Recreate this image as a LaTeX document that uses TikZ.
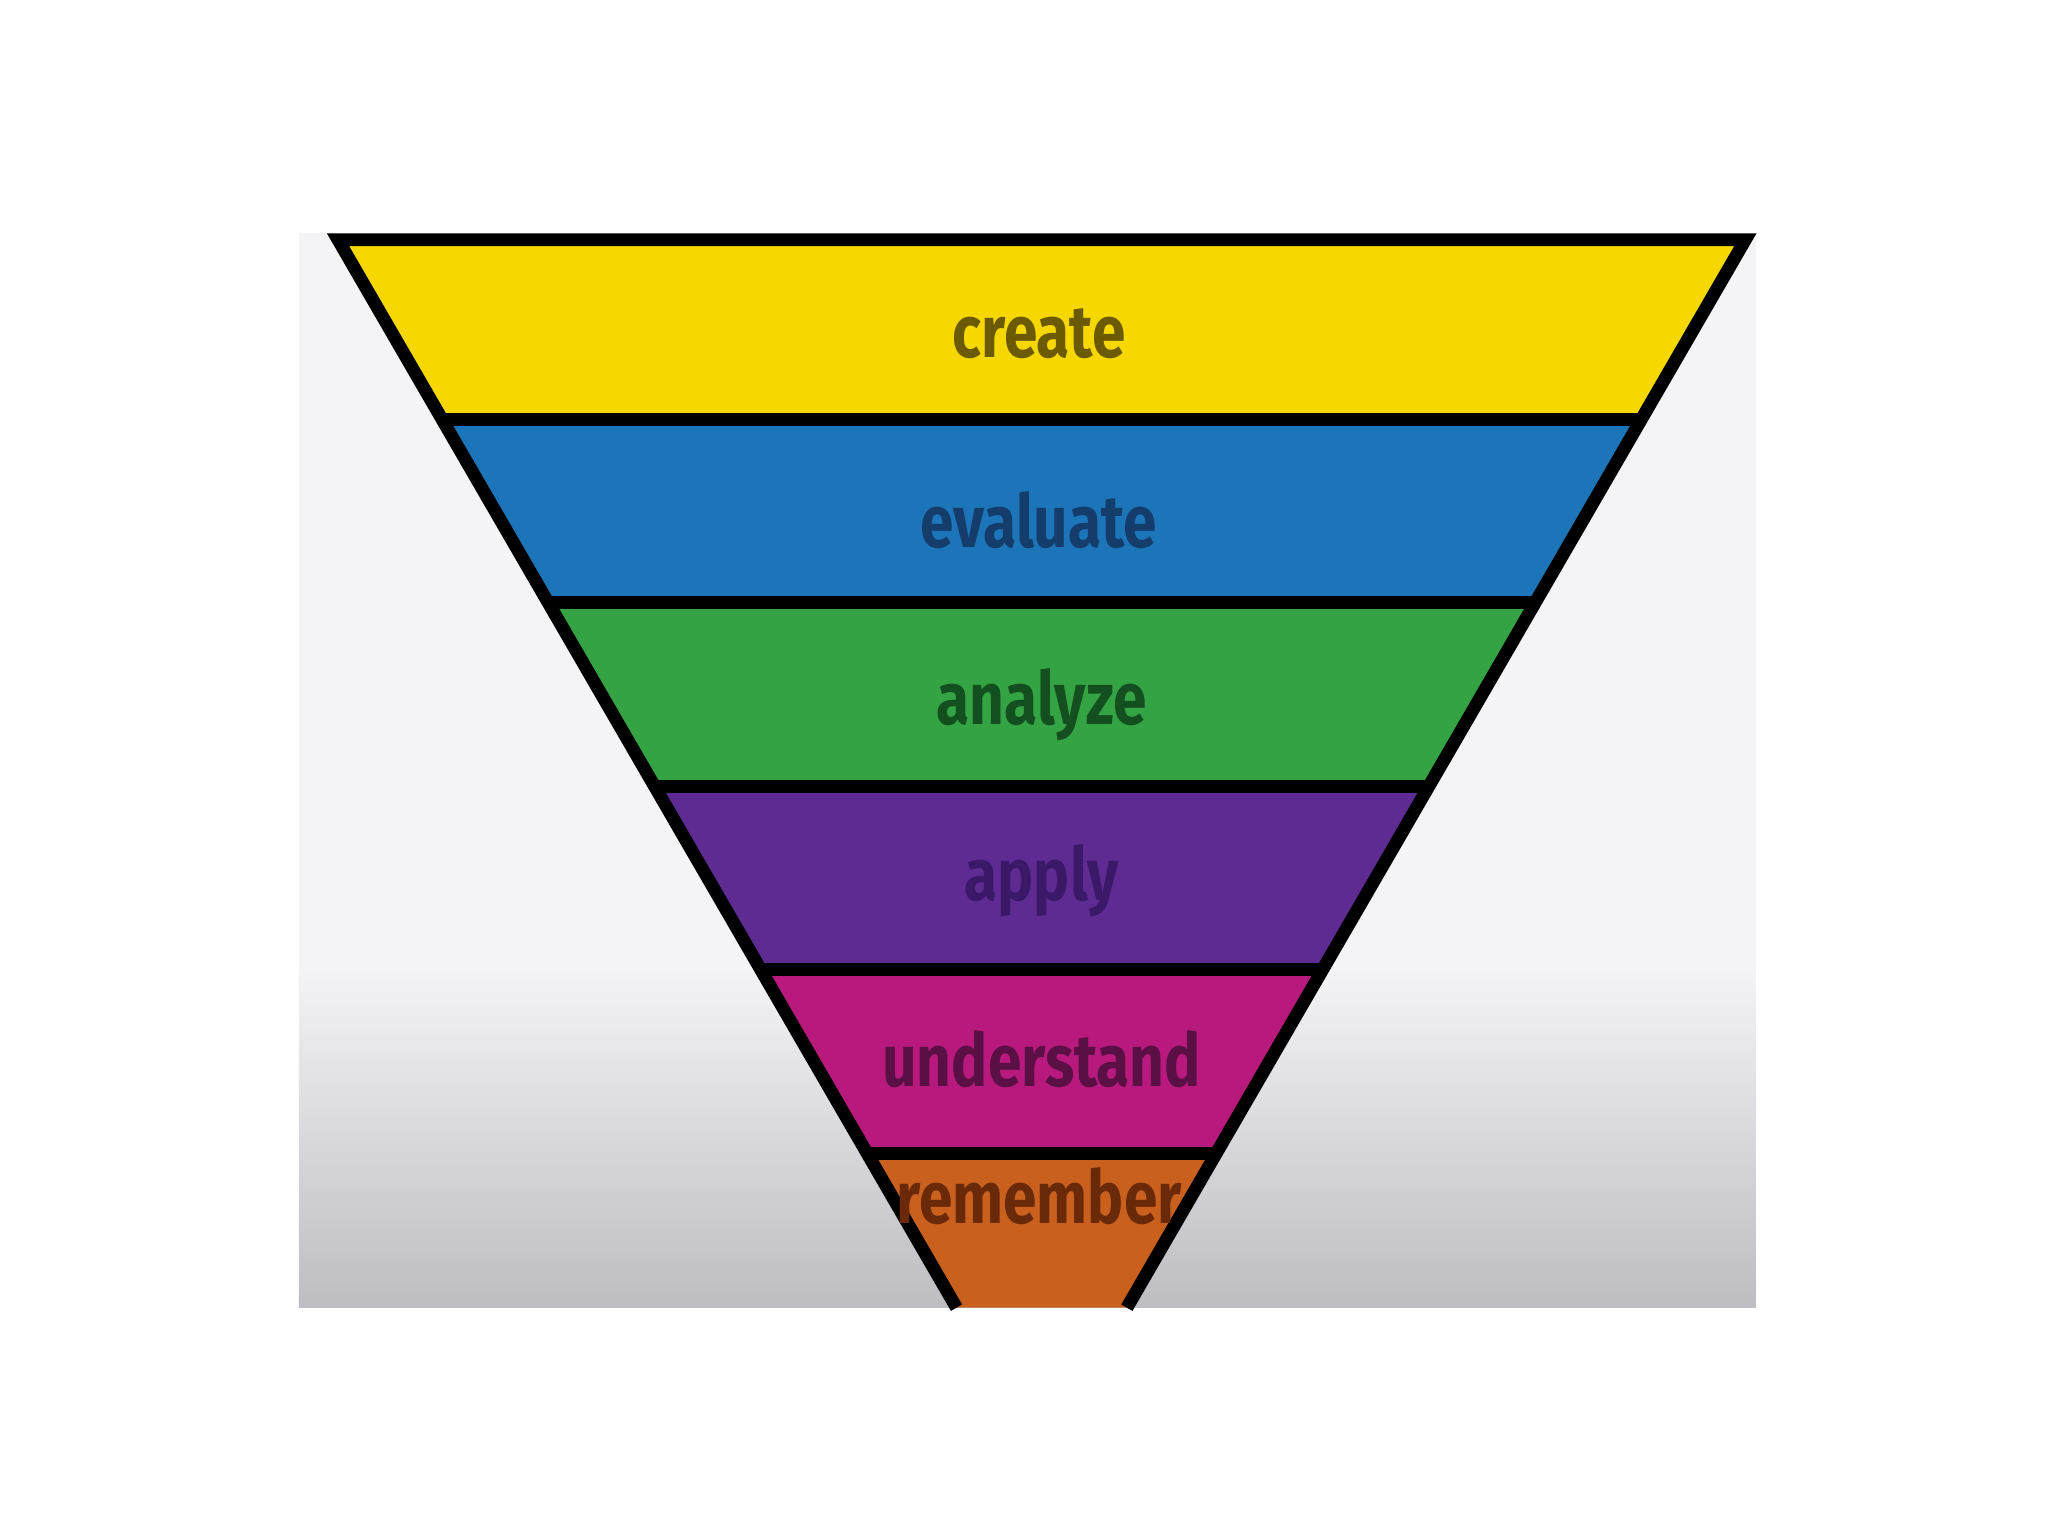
\documentclass[tikz,border=0pt]{standalone}
\usepackage{fontspec}
\setmainfont{Fira Sans}
\usetikzlibrary{calc}
\definecolor{cY}{HTML}{F6D800}\definecolor{tY}{HTML}{6B5A00}
\definecolor{cB}{HTML}{1C75B8}\definecolor{tB}{HTML}{153D6B}
\definecolor{cG}{HTML}{34A344}\definecolor{tG}{HTML}{14501F}
\definecolor{cP}{HTML}{5E2B92}\definecolor{tP}{HTML}{3C1868}
\definecolor{cM}{HTML}{B8197D}\definecolor{tM}{HTML}{5A0F45}
\definecolor{cO}{HTML}{C9601E}\definecolor{tO}{HTML}{6A2A0A}
\definecolor{bgtop}{HTML}{F4F4F6}\definecolor{bgbot}{HTML}{BDBDC2}
\tikzset{lbl/.style={font=\fontsize{16}{18}\selectfont\bfseries, xscale=0.82, transform shape},
  edge/.style={line width=2.8pt, line join=miter}}
\begin{document}
\begin{tikzpicture}[x=0.01cm,y=-0.01cm]
\useasboundingbox (0,0) rectangle (1563,1172);
\fill[bgtop] (228,178) rectangle (1340,740);
\shade[top color=bgtop, bottom color=bgbot] (228,740) rectangle (1340,998);
\coordinate (TL) at (258,183);
\coordinate (TR) at (1332,183);
\coordinate (BL) at (730,998);
\coordinate (BR) at (860,998);
\begin{scope}
\clip (TL) -- (TR) -- (BR) -- (BL) -- cycle;
\fill[cY] (200,150) rectangle (1400,320);
\fill[cB] (200,320) rectangle (1400,460);
\fill[cG] (200,460) rectangle (1400,600);
\fill[cP] (200,600) rectangle (1400,740);
\fill[cM] (200,740) rectangle (1400,880);
\fill[cO] (200,880) rectangle (1400,1000);
\foreach \y in {320,460,600,740,880}
  \draw[edge] (200,\y) -- (1400,\y);
\end{scope}
\draw[edge] (BL) -- (TL) -- (TR) -- (BR);
\node[lbl, text=tY] (n1) at (793,255) {create};
\node[lbl, text=tB] (n2) at (793,397) {evaluate};
\node[lbl, text=tG] (n3) at (795,538) {analyze};
\node[lbl, text=tP] (n4) at (795,672) {apply};
\node[lbl, text=tM] (n5) at (795,808) {understand};
\node[lbl, text=tO] (n6) at (793,913) {remember};
\end{tikzpicture}
\end{document}
